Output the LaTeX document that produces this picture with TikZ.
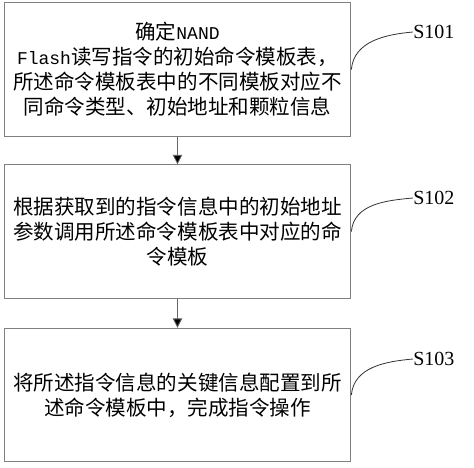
\documentclass[tikz,border=0pt]{standalone}
\usepackage{fontspec}
\setmainfont{Liberation Serif}
\newfontfamily\cjk{Noto Sans CJK SC}
\newfontfamily\halfw{Liberation Mono}
\newcommand{\hw}[1]{{\halfw\fontsize{13.5}{18.75}\selectfont #1}}
\usetikzlibrary{arrows.meta}

\begin{document}
\begin{tikzpicture}[x=0.75pt, y=-0.75pt,
  stepbox/.style={draw=black!50, line width=0.8pt, minimum width=260pt, minimum height=100pt, align=center, inner sep=0pt, font=\cjk\fontsize{15.4}{18.75}\selectfont},
  flow/.style={-{Triangle[length=7pt,width=7pt,fill=black]}, draw=black!60, line width=0.6pt},
  lead/.style={black!80, line width=0.6pt},
  tag/.style={anchor=west, inner sep=0pt, font=\fontsize{15}{18}\selectfont}
]
\useasboundingbox (0,0) rectangle (474,467);
% the three steps
\node[stepbox] (s101) at (177.5,69.5) {确定\hw{NAND}\\\hw{Flash}读写指令的初始命令模板表，\\所述命令模板表中的不同模板对应不\\同命令类型、初始地址和颗粒信息};
\node[stepbox] (s102) at (177.5,231.5) {根据获取到的指令信息中的初始地址\\参数调用所述命令模板表中对应的命\\令模板};
\node[stepbox] (s103) at (177.5,395) {将所述指令信息的关键信息配置到所\\述命令模板中，完成指令操作};
% step labels
\node[tag] (t101) at (413,32) {S101};
\node[tag] (t102) at (413,198) {S102};
\node[tag] (t103) at (413,359) {S103};
\draw[flow] (s101) -- (s102);
\draw[flow] (s102) -- (s103);
\draw[lead] (s101.east) to[out=85,in=185] (t101.west);
\draw[lead] (s102.east) to[out=85,in=185] (t102.west);
\draw[lead] (s103.east) to[out=85,in=185] (t103.west);
\end{tikzpicture}
\end{document}
